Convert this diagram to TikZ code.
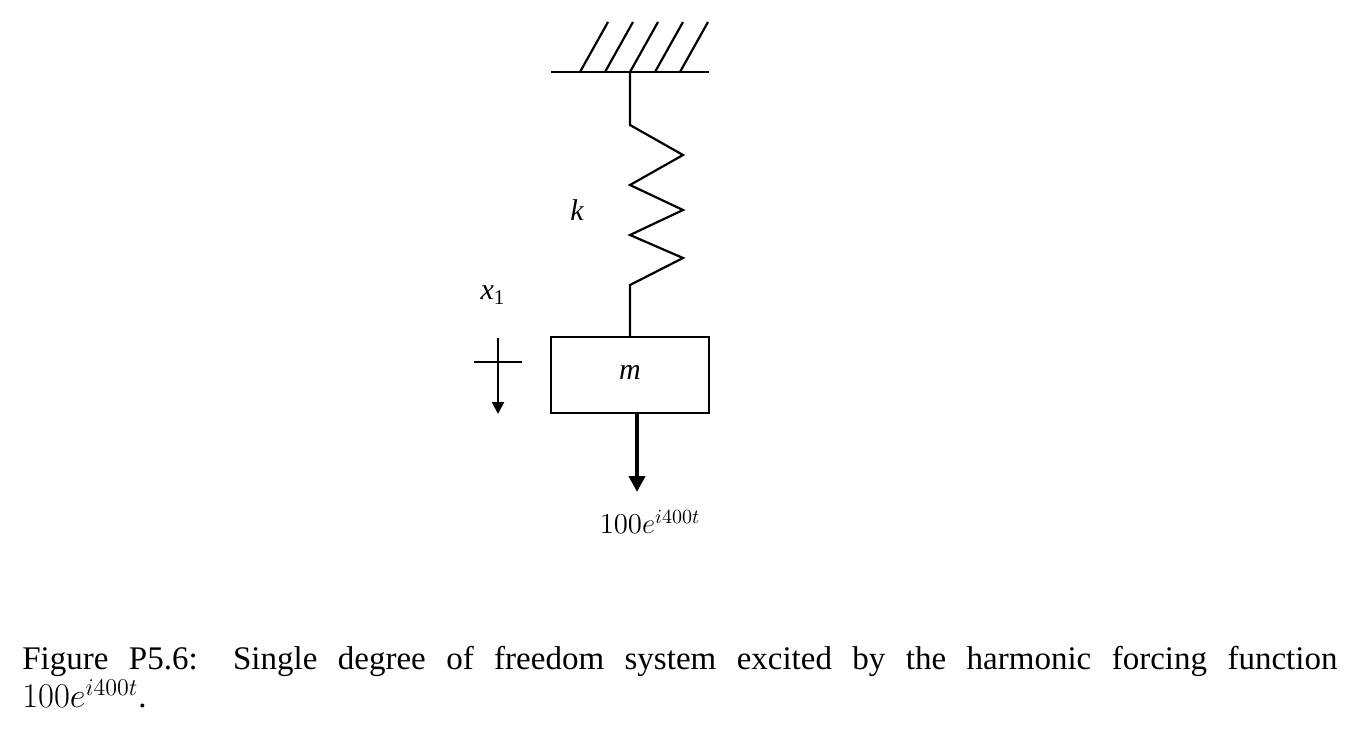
\documentclass[tikz,border=0pt]{standalone}
\usepackage{fontspec}
\setmainfont{Liberation Serif}
\usetikzlibrary{arrows.meta}
\begin{document}
\begin{tikzpicture}[x=0.5pt,y=-0.5pt,
  ln/.style={line width=1.1pt},
  lab/.style={font=\fontsize{15}{18}\selectfont\itshape}]
\useasboundingbox (0,0) rectangle (1354,738);
\draw[ln] (551,72) -- (709,72);
\foreach \x in {580,605,630,655,680} \draw[ln] (\x,72) -- (\x+28,22);
\coordinate (top) at (630,72);
\node[draw,ln,minimum width=79pt,minimum height=38pt] (m) at (630,375) {};
\node[lab] at (630,372) {m};
\draw[ln] (top) -- (630,125) -- (683,155) -- (630,185) -- (683,210) -- (630,235) -- (683,258) -- (630,285) -- (m.north);
\node[lab] at (577,210) {k};
\node[font=\fontsize{15}{18}\selectfont] at (493,295) {\textit{x}\textsubscript{1}};
\draw[ln] (474,362) -- (522,362);
\draw[ln,-{Triangle[length=6pt,width=6pt]}] (498,338) -- (498,414);
\coordinate (f) at (637,492);
\draw[line width=2.2pt,-{Triangle[length=8pt,width=8pt]}] (637,413) -- (f);
\node[font=\fontsize{14}{16}\selectfont] at (650,522) {$100e^{i400t}$};
\node[anchor=north west,inner sep=0pt,font=\fontsize{16.5}{19}\selectfont] at (22,646)
 {\parbox{657.5pt}{Figure P5.6: Single degree of freedom system excited by the harmonic forcing function\linebreak $100e^{i400t}$.}};
\end{tikzpicture}
\end{document}
